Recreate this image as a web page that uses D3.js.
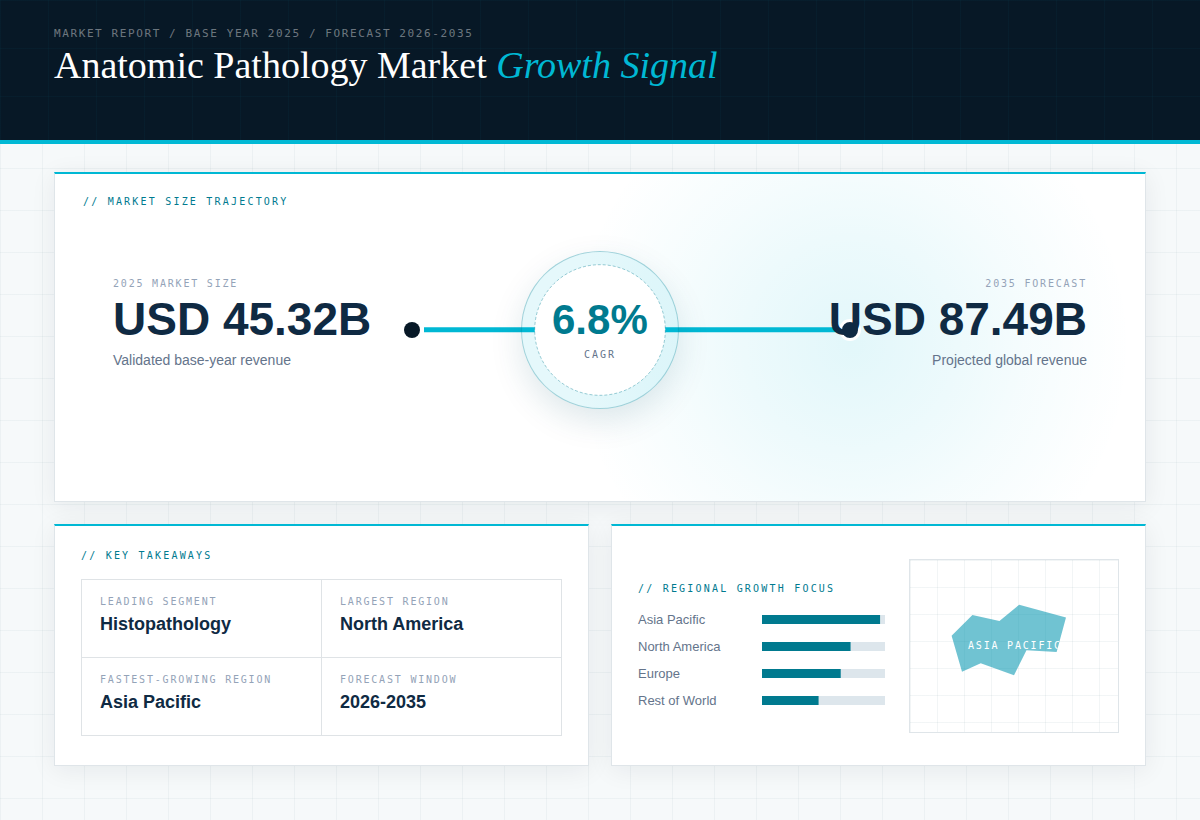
<!DOCTYPE html>
<html><head><meta charset="utf-8">
<script src="https://cdn.jsdelivr.net/npm/d3@7"></script>
<style>
html,body{margin:0;padding:0;width:1200px;height:820px;overflow:hidden}
body{position:relative;background-color:#f6f9fa;
background-image:linear-gradient(rgba(0,60,80,.04) 1px,transparent 1px),linear-gradient(90deg,rgba(0,60,80,.04) 1px,transparent 1px);
background-size:42px 42px;font-family:"Liberation Sans",sans-serif}
.abs,.t{position:absolute}
.t{white-space:nowrap;line-height:1}
.mono{font-family:"DejaVu Sans Mono",monospace}
.header{left:0;top:0;width:1200px;height:140px;background-color:#071826;border-bottom:4px solid #00b8d4;
background-image:linear-gradient(rgba(0,184,212,.035) 1px,transparent 1px),linear-gradient(90deg,rgba(0,184,212,.035) 1px,transparent 1px);background-size:48px 48px}
.card{box-sizing:border-box;background:#fff;border:1px solid #dfe5e9;border-top:2px solid #00b8d4;box-shadow:0 4px 24px rgba(7,24,37,.07);overflow:hidden}
svg{position:absolute;overflow:visible}
</style></head><body>
<script>
const eyebrow="MARKET REPORT / BASE YEAR 2025 / FORECAST 2026-2035";
const titleMain="Anatomic Pathology Market ", titleAccent="Growth Signal";
const baseLabel="2025 MARKET SIZE", baseValue="USD 45.32B", baseNote="Validated base-year revenue";
const foreLabel="2035 FORECAST", foreValue="USD 87.49B", foreNote="Projected global revenue";
const cagrValue="6.8%", cagrLabel="CAGR";
const takeLabels=["LEADING SEGMENT","LARGEST REGION","FASTEST-GROWING REGION","FORECAST WINDOW"];
const takeValues=["Histopathology","North America","Asia Pacific","2026-2035"];
const regions=["Asia Pacific","North America","Europe","Rest of World"];
const regionValues=[96,72,64,46];
const mapShapeX=[30,43,52.5,75,70.5,56,50,34,25,20];
const mapShapeY=[32,35.5,26,33.5,53.5,52.5,67,60,65,44];
const mapLabel="ASIA PACIFIC";

const body=d3.select("body");
function box(cls,x,y,w,h,parent){return (parent||body).append("div").attr("class","abs "+cls)
  .style("left",x+"px").style("top",y+"px").style("width",w+"px").style("height",h+"px");}
function text(str,x,y,size,color,o={}){
  const el=body.append("div").attr("class","t"+(o.mono?" mono":"")).text(str)
    .style("top",y+"px").style("font-size",size+"px").style("color",color);
  if(o.right!==undefined) el.style("right",o.right+"px"); else el.style("left",x+"px");
  if(o.bold) el.style("font-weight","700");
  if(o.ls) el.style("letter-spacing",o.ls+"px");
  return el;
}
const teal="#007a8f",navy="#0f2a43",slate="#64748b",mute="#94a3b8",cyan="#00b8d4";

box("header",0,0,1200,140);
text(eyebrow,54,28,11,"rgba(255,255,255,.42)",{mono:1,ls:1.6});
const title=text("",54,46,38,"#fff").style("font-family",'"Liberation Serif",serif');
title.append("span").text(titleMain).style("white-space","pre");
title.append("span").text(titleAccent).style("font-style","italic").style("color",cyan);

// hero
const hero=box("card",54,172,1092,330);
hero.append("div").attr("class","abs").style("left","0").style("top","0").style("width","1090px").style("height","327px")
  .style("background","radial-gradient(circle at 796px 170px,rgba(0,184,212,.115) 0,rgba(0,184,212,.08) 90px,rgba(0,184,212,.04) 175px,rgba(0,184,212,0) 280px)");
text("// MARKET SIZE TRAJECTORY",83,197,10,teal,{mono:1,ls:2.2});
const link=d3.select("body").append("svg").attr("width",1200).attr("height",820).style("left",0).style("top",0);
const linkX=d3.scaleLinear().domain([0,1]).range([424,840]);
link.append("line").attr("x1",linkX(0)).attr("x2",linkX(1)).attr("y1",329.8).attr("y2",329.8).attr("stroke",cyan).attr("stroke-width",5);
link.append("circle").attr("cx",412).attr("cy",330).attr("r",8).attr("fill","#071826");
link.append("circle").attr("cx",850).attr("cy",330).attr("r",9.5).attr("fill","#0f2a43").attr("stroke","#fff").attr("stroke-width",3);

const outer=box("",521,251,158,158);
outer.style("box-sizing","border-box").style("border-radius","50%").style("background","rgba(0,184,212,.1)")
 .style("border","1px solid rgba(0,122,143,.3)").style("box-shadow","0 12px 32px rgba(0,80,100,.13)");
const ring=d3.select("body").append("svg").attr("width",1200).attr("height",820).style("left",0).style("top",0);
ring.append("circle").attr("cx",600).attr("cy",330).attr("r",65.3).attr("fill","#fff")
  .attr("stroke","rgba(0,122,143,.38)").attr("stroke-width",1).attr("stroke-dasharray","3 2");
text(cagrValue,552,299,42,teal,{bold:1});
text(cagrLabel,584,350,10,slate,{mono:1,ls:2});

text(baseLabel,113,279,10,mute,{mono:1,ls:1.8});
text(baseValue,113,296,46,navy,{bold:1});
text(baseNote,113,353,14,slate);
text(foreLabel,0,279,10,mute,{mono:1,ls:1.8,right:113});
text(foreValue,0,296,46,navy,{bold:1,right:113});
text(foreNote,0,353,14,slate,{right:113});

// takeaways
box("card",54,524,535,242);
text("// KEY TAKEAWAYS",81,551,10,teal,{mono:1,ls:2.2});
const grid=box("",81,579,481,157);
grid.style("box-sizing","border-box").style("border","1px solid #dfe3e6");
box("",321,579,1,157).style("background","#dfe3e6");
box("",81,657,481,1).style("background","#dfe3e6");
const cellX=d3.scalePoint().domain([0,1]).range([100,340]);
const cellY=d3.scalePoint().domain([0,1]).range([597,675]);
takeLabels.forEach((l,i)=>{
  const cx=cellX(i%2),cy=cellY(Math.floor(i/2));
  text(l,cx,cy,10,mute,{mono:1,ls:1.8});
  text(takeValues[i],cx,cy+18,18,navy,{bold:1});
});

// regional
box("card",611,524,535,242);
text("// REGIONAL GROWTH FOCUS",638,584,10,teal,{mono:1,ls:2.2});
const barX=d3.scaleLinear().domain([0,100]).range([0,123]);
const rowY=d3.scalePoint().domain(regions).range([615,696]);
const bars=d3.select("body").append("svg").attr("width",1200).attr("height",820).style("left",0).style("top",0);
regions.forEach((r,i)=>{
  text(r,638,rowY(r)-2,13,slate);
  bars.append("rect").attr("x",762).attr("y",rowY(r)).attr("width",barX(100)).attr("height",9).attr("fill","#dde6ec");
  bars.append("rect").attr("x",762).attr("y",rowY(r)).attr("width",barX(regionValues[i])).attr("height",9).attr("fill",teal);
});

// map
const map=box("",909,559,210,174);
map.style("box-sizing","border-box").style("border","1px solid #dfe5e9").style("background-color","#fff")
 .style("background-image","linear-gradient(rgba(0,60,80,.05) 1px,transparent 1px),linear-gradient(90deg,rgba(0,60,80,.05) 1px,transparent 1px)")
 .style("background-size","27px 27px");
const mx=d3.scaleLinear().domain([0,100]).range([910,1118]);
const my=d3.scaleLinear().domain([0,100]).range([560,732]);
const pts=mapShapeX.map((x,i)=>[mx(x),my(mapShapeY[i])]);
const ms=d3.select("body").append("svg").attr("width",1200).attr("height",820).style("left",0).style("top",0);
ms.append("clipPath").attr("id","apac").append("polygon").attr("points",pts.join(" "));
ms.append("polygon").attr("points",pts.join(" ")).attr("fill","#0094af").attr("opacity",.56);
ms.append("g").attr("clip-path","url(#apac)").append("text").text(mapLabel)
  .attr("x",968).attr("y",649).attr("fill","#fff")
  .style("font-family",'"DejaVu Sans Mono",monospace').style("font-size","10px").style("letter-spacing","1.8px");
</script>
</body></html>
